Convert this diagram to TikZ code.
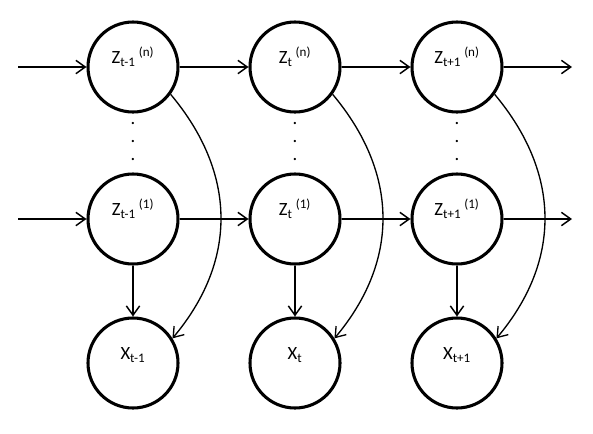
\documentclass[tikz,border=0pt]{standalone}
\usepackage{fontspec}
\setmainfont{Carlito}
\usetikzlibrary{arrows.meta}
\newcommand{\zlab}[2]{Z\textsubscript{#1}\,\textsuperscript{(#2)}}
\newcommand{\xlab}[1]{X\textsubscript{#1}}

\begin{document}
\begin{tikzpicture}
	[x=0.75pt, y=-0.75pt,
	 var/.style={circle, draw, line width=2.3pt, minimum size=67.5pt, inner sep=0pt,
		font=\fontsize{14}{16}\selectfont, text height=0pt, text depth=5.2pt},
	 edge/.style={-{Straight Barb[length=7pt,width=10pt]}, line width=1.1pt},
	 jump/.style={-{Straight Barb[length=7pt,width=10pt]}, line width=1pt},
	 dots/.style={align=center, inner sep=0pt, font=\fontsize{14}{13.5}\selectfont}]
	\useasboundingbox (0,0) rectangle (593,433);

	\node[var] (z1n) at (133,67) {\zlab{t-1}{n}};
	\node[var] (z2n) at (295,67) {\zlab{t}{n}};
	\node[var] (z3n) at (457,67) {\zlab{t+1}{n}};
	\node[var] (z11) at (133,219) {\zlab{t-1}{1}};
	\node[var] (z21) at (295,219) {\zlab{t}{1}};
	\node[var] (z31) at (457,219) {\zlab{t+1}{1}};
	\node[var] (x1) at (133,363) {\xlab{t-1}};
	\node[var] (x2) at (295,363) {\xlab{t}};
	\node[var] (x3) at (457,363) {\xlab{t+1}};

	\node[dots] (d1) at (133,142) {.\\.\\.};
	\node[dots] (d2) at (295,142) {.\\.\\.};
	\node[dots] (d3) at (457,142) {.\\.\\.};

	\coordinate (inn) at (18,67);
	\coordinate (in1) at (18,219);
	\coordinate (outn) at (572,67);
	\coordinate (out1) at (572,219);

	\draw[edge] (inn) -- (z1n);
	\draw[edge] (z1n) -- (z2n);
	\draw[edge] (z2n) -- (z3n);
	\draw[edge] (z3n) -- (outn);
	\draw[edge] (in1) -- (z11);
	\draw[edge] (z11) -- (z21);
	\draw[edge] (z21) -- (z31);
	\draw[edge] (z31) -- (out1);

	\draw[edge] (z11) -- (x1);
	\draw[edge] (z21) -- (x2);
	\draw[edge] (z31) -- (x3);

	\draw[jump] (z1n.-36) to[out=-50, in=50, looseness=1.07] (x1.32);
	\draw[jump] (z2n.-36) to[out=-50, in=50, looseness=1.07] (x2.32);
	\draw[jump] (z3n.-36) to[out=-50, in=50, looseness=1.07] (x3.32);
\end{tikzpicture}
\end{document}
